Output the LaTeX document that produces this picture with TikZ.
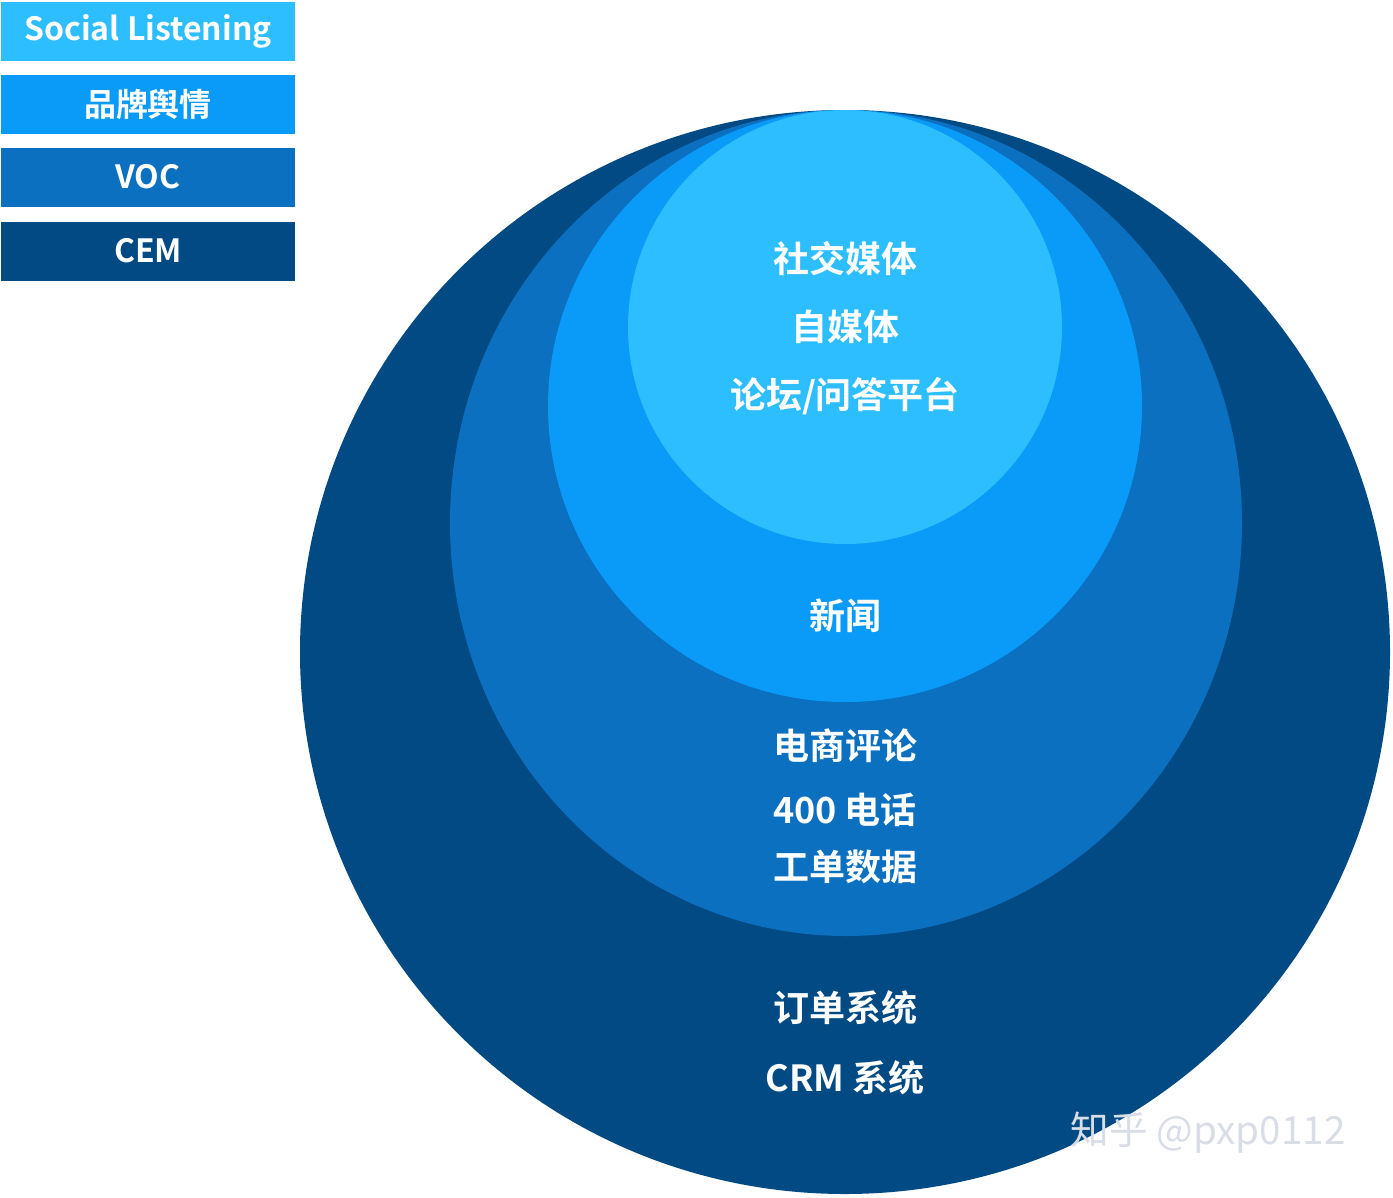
\documentclass[tikz,border=0pt]{standalone}
\usepackage{fontspec}
\setmainfont{Noto Sans CJK SC}[BoldFont={* Bold}]
\begin{document}
\begin{tikzpicture}[x=0.75pt,y=-0.75pt,
  lbl/.style={text=white,font=\fontsize{27}{32}\selectfont\bfseries,inner sep=0pt},
  leg/.style={minimum width=293*0.75pt,minimum height=59*0.75pt,inner sep=0pt,text=white,font=\fontsize{24}{28}\selectfont\bfseries}]
\useasboundingbox (0,0) rectangle (1393,1197);
\definecolor{cA}{HTML}{2DBEFF}
\definecolor{cB}{HTML}{0A9BF8}
\definecolor{cC}{HTML}{0B70C0}
\definecolor{cD}{HTML}{024A84}
\definecolor{wm}{HTML}{D8DDE6}
\fill[cD] (845,652) ellipse [x radius=545, y radius=542];
\fill[cC] (846,523) ellipse [x radius=396, y radius=413];
\fill[cB] (845,406) ellipse [x radius=297, y radius=296];
\fill[cA] (845,327) ellipse [x radius=217, y radius=217];
\node[leg,fill=cA] (l1) at (148,31) {Social Listening};
\node[leg,fill=cB] (l2) at (148,104) {品牌舆情};
\node[leg,fill=cC] (l3) at (148,177) {VOC};
\node[leg,fill=cD] (l4) at (148,251) {CEM};
\node[lbl] (t1) at (845,259) {社交媒体};
\node[lbl] (t2) at (845,327) {自媒体};
\node[lbl] (t3) at (845,396) {论坛/问答平台};
\node[lbl] (t4) at (845,616) {新闻};
\node[lbl] (t5) at (845,746) {电商评论};
\node[lbl] (t6) at (845,810) {400 电话};
\node[lbl] (t7) at (845,867) {工单数据};
\node[lbl] (t8) at (845,1008) {订单系统};
\node[lbl] (t9) at (845,1078) {CRM 系统};
\node[text=wm,font=\fontsize{29}{32}\selectfont,inner sep=0pt] (wmk) at (1208,1133) {知乎 @pxp0112};
\end{tikzpicture}
\end{document}
